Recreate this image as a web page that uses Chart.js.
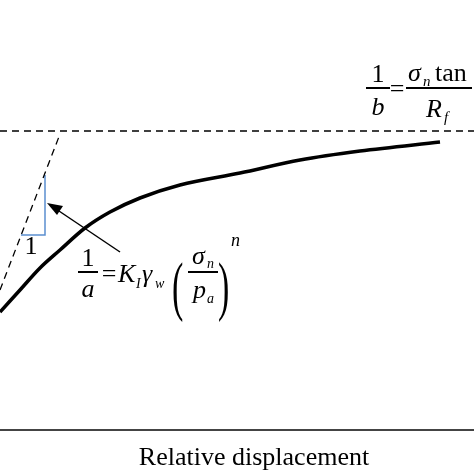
<!DOCTYPE html>
<html>
<head>
<meta charset="utf-8">
<script src="https://cdn.jsdelivr.net/npm/chart.js@4"></script>
<style>
html, body { margin: 0; padding: 0; background: #fff; }
#wrap { width: 474px; height: 474px; }
</style>
</head>
<body>
<div id="wrap"><canvas id="curva"></canvas></div>
<script>
// curve (x = displacement, y = stress, pixel-like units)
var deslocamento = [0, 20, 40, 60, 85, 110, 140, 180, 240, 300, 360, 440];
var tensao = [118, 140, 162, 180, 202, 218, 232, 245, 257, 270, 279, 288];
// asymptote and initial tangent
var assintotaX = [0, 474];
var assintotaY = [299, 299];
var tangenteX = [0, 60];
var tangenteY = [140, 296];
// slope triangle
var trianguloX = [21, 45, 45];
var trianguloY = [195, 195, 255];

function pares(xs, ys) {
    return xs.map(function(x, i) { return { x: x, y: ys[i] }; });
}

var serif = '"Liberation Serif", "DejaVu Serif", serif';

var textos = {
    id: 'textos',
    afterDraw: function(chart) {
        var ctx = chart.ctx;
        ctx.save();
        ctx.strokeStyle = '#000';
        // axis line
        ctx.fillStyle = '#444';
        ctx.fillRect(0, 429, 474, 2);
        ctx.fillStyle = '#000';
        ctx.font = '26px ' + serif;
        ctx.textAlign = 'center';
        ctx.textBaseline = 'middle';
        ctx.fillText('Relative displacement', 254, 458);

        // 1/b formula
        ctx.textBaseline = 'alphabetic';
        ctx.font = '26px ' + serif;
        ctx.fillText('1', 378, 82);
        ctx.fillRect(366, 87, 24, 2);
        ctx.font = 'italic 26px ' + serif;
        ctx.fillText('b', 378, 115);
        ctx.font = '26px ' + serif;
        ctx.fillText('=', 397, 97);
        ctx.fillRect(406, 87, 66, 2);
        ctx.font = 'italic 26px ' + serif;
        ctx.textAlign = 'left';
        ctx.fillText('σ', 408, 81);
        ctx.font = 'italic 15px ' + serif;
        ctx.fillText('n', 423, 86);
        ctx.font = '26px ' + serif;
        ctx.fillText('tan', 435, 81);
        ctx.font = 'italic 26px ' + serif;
        ctx.fillText('R', 426, 117);
        ctx.font = 'italic 15px ' + serif;
        ctx.fillText('f', 444, 122);

        // 1/a formula
        ctx.textAlign = 'center';
        ctx.font = '26px ' + serif;
        ctx.fillText('1', 88, 266);
        ctx.fillRect(78, 271, 20, 2);
        ctx.font = 'italic 26px ' + serif;
        ctx.fillText('a', 88, 297);
        ctx.font = '26px ' + serif;
        ctx.fillText('=', 109, 282);
        ctx.textAlign = 'left';
        ctx.font = 'italic 26px ' + serif;
        ctx.fillText('K', 118, 282);
        ctx.font = 'italic 14px ' + serif;
        ctx.fillText('I', 136, 288);
        ctx.font = 'italic 26px ' + serif;
        ctx.fillText('γ', 142, 282);
        ctx.font = 'italic 14px ' + serif;
        ctx.fillText('w', 155, 288);
        // tall thin parentheses
        ctx.save();
        ctx.scale(1, 1.9);
        ctx.font = '34px ' + serif;
        ctx.fillText('(', 172, 162);
        ctx.fillText(')', 218, 162);
        ctx.restore();
        ctx.fillRect(188, 271, 30, 2);
        ctx.font = 'italic 26px ' + serif;
        ctx.fillText('σ', 192, 264);
        ctx.font = 'italic 14px ' + serif;
        ctx.fillText('n', 207, 268);
        ctx.font = 'italic 26px ' + serif;
        ctx.fillText('p', 193, 298);
        ctx.font = 'italic 14px ' + serif;
        ctx.fillText('a', 207, 303);
        ctx.font = 'italic 18px ' + serif;
        ctx.fillText('n', 231, 246);

        // slope label
        ctx.font = '26px ' + serif;
        ctx.textAlign = 'center';
        ctx.fillText('1', 31, 254);

        // arrow
        ctx.lineWidth = 1.5;
        ctx.beginPath();
        ctx.moveTo(120, 252);
        ctx.lineTo(56, 209);
        ctx.stroke();
        ctx.beginPath();
        ctx.moveTo(47, 203);
        ctx.lineTo(63, 206);
        ctx.lineTo(57, 215);
        ctx.closePath();
        ctx.fill();
        ctx.restore();
    }
};

new Chart(document.getElementById('curva'), {
    type: 'scatter',
    data: {
        datasets: [{
            data: pares(deslocamento, tensao),
            showLine: true,
            borderColor: '#000',
            borderWidth: 3.5,
            pointRadius: 0,
            cubicInterpolationMode: 'monotone'
        }, {
            data: pares(assintotaX, assintotaY),
            showLine: true,
            borderColor: '#000',
            borderWidth: 1.3,
            borderDash: [7, 5],
            pointRadius: 0
        }, {
            data: pares(tangenteX, tangenteY),
            showLine: true,
            borderColor: '#000',
            borderWidth: 1.3,
            borderDash: [7, 5],
            pointRadius: 0
        }, {
            data: pares(trianguloX, trianguloY),
            showLine: true,
            borderColor: '#5b8fd0',
            borderWidth: 1.5,
            pointRadius: 0
        }]
    },
    options: {
        responsive: true,
        maintainAspectRatio: false,
        animation: false,
        layout: { padding: { bottom: 44 } },
        plugins: { legend: { display: false }, tooltip: { enabled: false } },
        scales: {
            x: { type: 'linear', min: 0, max: 474, display: false },
            y: { min: 0, max: 430, display: false }
        }
    },
    plugins: [textos]
});
</script>
</body>
</html>
